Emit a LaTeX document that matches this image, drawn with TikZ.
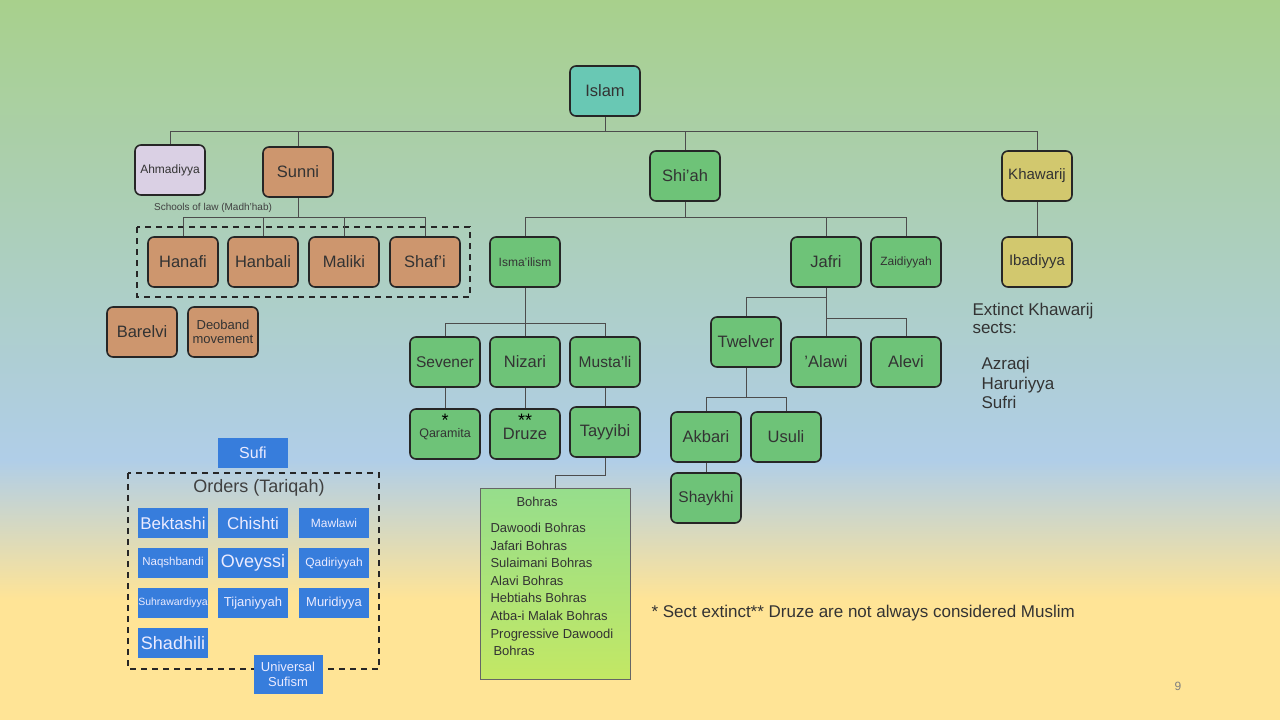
\documentclass[tikz,border=0pt]{standalone}
\usepackage{fontspec}
\setmainfont{Liberation Sans}
\definecolor{bgG}{RGB}{168,208,140}
\definecolor{bgB}{RGB}{176,206,232}
\definecolor{bgY}{RGB}{255,228,150}
\definecolor{cSun}{RGB}{205,150,110}
\definecolor{cGr}{RGB}{110,195,120}
\definecolor{cBl}{RGB}{55,125,220}
\definecolor{cIs}{RGB}{105,200,180}
\definecolor{cAh}{RGB}{218,208,228}
\definecolor{cKh}{RGB}{210,200,110}
\definecolor{cBo1}{RGB}{150,222,140}
\definecolor{cBo2}{RGB}{195,232,100}
\begin{document}
\begin{tikzpicture}[x=1pt,y=-1pt,
 bx/.style={draw=black!85,line width=1.6pt,rounded corners=6pt,minimum width=70pt,minimum height=50pt,inner sep=0pt,font=\fontsize{16.5}{17}\selectfont,text=black!80,align=center},
 sun/.style={bx,fill=cSun},
 gr/.style={bx,fill=cGr},
 bl/.style={fill=cBl,text=white!92!blue,minimum width=70pt,minimum height=30pt,inner sep=0pt,font=\fontsize{16}{17}\selectfont,align=center},
 ln/.style={draw=black!70,line width=1pt},
 dsh/.style={draw=black!85,line width=2pt,dash pattern=on 6pt off 5pt}]
\useasboundingbox (0,0) rectangle (1280,720);
\shade[top color=bgG,bottom color=bgB] (0,0) rectangle (1280,460);
\shade[top color=bgB,bottom color=bgY] (0,460) rectangle (1280,600);
\fill[bgY] (0,600) rectangle (1280,720);
% nodes
\node[bx,fill=cIs] (islam) at (605,91) {Islam};
\node[bx,fill=cAh,font=\fontsize{12}{13}\selectfont] (ahm) at (170,170) {Ahmadiyya};
\node[sun] (sunni) at (298,172) {Sunni};
\node[gr] (shia) at (685,176) {Shi'ah};
\node[bx,fill=cKh,font=\fontsize{15}{16}\selectfont] (khaw) at (1037,176) {Khawarij};
\node[font=\fontsize{10}{11}\selectfont,text=black!75] (sch) at (213,208) {Schools of law (Madh'hab)};
\node[sun] (hanafi) at (183,262) {Hanafi};
\node[sun] (hanbali) at (263,262) {Hanbali};
\node[sun] (maliki) at (344,262) {Maliki};
\node[sun] (shafii) at (425,262) {Shaf'i};
\node[sun] (barelvi) at (142,332) {Barelvi};
\node[sun,font=\fontsize{13}{14}\selectfont] (deo) at (223,332) {Deoband\\movement};
\node[gr,font=\fontsize{12}{13}\selectfont] (ism) at (525,262) {Isma'ilism};
\node[gr] (jafri) at (826,262) {Jafri};
\node[gr,font=\fontsize{12}{13}\selectfont] (zaid) at (906,262) {Zaidiyyah};
\node[bx,fill=cKh,font=\fontsize{15}{16}\selectfont] (ibad) at (1037,262) {Ibadiyya};
\node[gr,font=\fontsize{15.5}{16}\selectfont] (sev) at (445,362) {Sevener};
\node[gr] (niz) at (525,362) {Nizari};
\node[gr,font=\fontsize{15.5}{16}\selectfont] (mus) at (605,362) {Musta'li};
\node[gr,font=\fontsize{12.5}{13}\selectfont] (qar) at (445,434) {Qaramita};
\node[gr] (druze) at (525,434) {Druze};
\node[gr] (tay) at (605,432) {Tayyibi};
\node[font=\fontsize{18}{18}\selectfont] (s1) at (445,420) {*};
\node[font=\fontsize{18}{18}\selectfont] (s2) at (525,420) {**};
\node[gr] (twelver) at (746,342) {Twelver};
\node[gr] (alawi) at (826,362) {'Alawi};
\node[gr] (alevi) at (906,362) {Alevi};
\node[gr] (akbari) at (706,437) {Akbari};
\node[gr] (usuli) at (786,437) {Usuli};
\node[gr,font=\fontsize{15.5}{16}\selectfont] (shay) at (706,498) {Shaykhi};
\node[draw=black!60,line width=1pt,top color=cBo1,bottom color=cBo2,minimum width=150pt,minimum height=191pt,anchor=north west] (bohras) at (480,488) {};
\node[anchor=north west,font=\fontsize{13}{17.6}\selectfont,text=black!80,align=left] (bt) at (487,494) {\hspace*{26pt}Bohras\\[8pt]Dawoodi Bohras\\Jafari Bohras\\Sulaimani Bohras\\Alavi Bohras\\Hebtiahs Bohras\\Atba-i Malak Bohras\\Progressive Dawoodi\\\hspace*{3pt}Bohras};
\node[anchor=north west,font=\fontsize{17}{18}\selectfont,text=black!80,align=left] (ext) at (969,300) {Extinct Khawarij\\sects:};
\node[anchor=north west,font=\fontsize{17}{19.5}\selectfont,text=black!80,align=left] (ext2) at (978,354) {Azraqi\\Haruriyya\\Sufri};
\node[anchor=west,font=\fontsize{17}{18}\selectfont,text=black!80] (foot) at (648,613) {* Sect extinct** Druze are not always considered Muslim};
\node[font=\fontsize{12}{13}\selectfont,text=black!50] (pg) at (1178,686) {9};
% sufi
\node[bl] (sufi) at (253,453) {Sufi};
\draw[dsh] (128,473) rectangle (379,669);
\node[font=\fontsize{18}{19}\selectfont,text=black!75] (ord) at (259,488) {Orders (Tariqah)};
\node[bl,font=\fontsize{17}{18}\selectfont] (b1) at (173,523) {Bektashi};
\node[bl,font=\fontsize{17}{18}\selectfont] (b2) at (253,523) {Chishti};
\node[bl,font=\fontsize{12}{13}\selectfont] (b3) at (334,523) {Mawlawi};
\node[bl,font=\fontsize{11.5}{12}\selectfont] (b4) at (173,563) {Naqshbandi};
\node[bl,font=\fontsize{18}{19}\selectfont] (b5) at (253,563) {Oveyssi};
\node[bl,font=\fontsize{12}{13}\selectfont] (b6) at (334,563) {Qadiriyyah};
\node[bl,font=\fontsize{10.5}{11}\selectfont] (b7) at (173,603) {Suhrawardiyya};
\node[bl,font=\fontsize{13}{14}\selectfont] (b8) at (253,603) {Tijaniyyah};
\node[bl,font=\fontsize{13}{14}\selectfont] (b9) at (334,603) {Muridiyya};
\node[bl,font=\fontsize{18}{19}\selectfont] (b10) at (173,643) {Shadhili};
\node[bl,minimum height=39pt,minimum width=69pt,font=\fontsize{13}{15}\selectfont] (univ) at (288,674) {Universal\\Sufism};
\draw[dsh] (137,227) rectangle (470,297);
% connectors
\draw[ln] (islam.south) -- (605,131);
\draw[ln] (ahm.north) -- (170,131) -| (khaw.north);
\draw[ln] (sunni.north) -- (298,131);
\draw[ln] (shia.north) -- (685,131);
\draw[ln] (sunni.south) -- (298,217);
\draw[ln] (hanafi.north) |- (shafii.north |- 0,217) -- (shafii.north);
\draw[ln] (hanbali.north) -- (263,217);
\draw[ln] (maliki.north) -- (344,217);
\draw[ln] (shia.south) -- (685,217);
\draw[ln] (ism.north) |- (zaid.north |- 0,217) -- (zaid.north);
\draw[ln] (jafri.north) -- (826,217);
\draw[ln] (khaw.south) -- (ibad.north);
\draw[ln] (ism.south) -- (525,323);
\draw[ln] (sev.north) |- (mus.north |- 0,323) -- (mus.north);
\draw[ln] (niz.north) -- (525,323);
\draw[ln] (sev.south) -- (qar.north);
\draw[ln] (niz.south) -- (druze.north);
\draw[ln] (mus.south) -- (tay.north);
\draw[ln] (tay.south) -- (605,475) -- (555,475) -- (555,488);
\draw[ln] (jafri.south) -- (alawi.north);
\draw[ln] (twelver.north) |- (826,297);
\draw[ln] (826,318) -| (alevi.north);
\draw[ln] (twelver.south) -- (746,397);
\draw[ln] (akbari.north) |- (usuli.north |- 0,397) -- (usuli.north);
\draw[ln] (akbari.south) -- (shay.north);
\end{tikzpicture}
\end{document}
